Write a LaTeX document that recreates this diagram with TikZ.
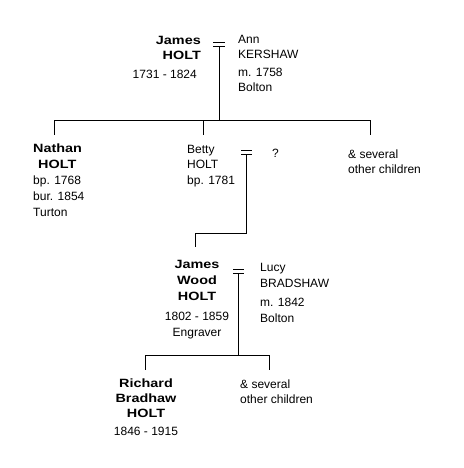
\documentclass[tikz,border=0pt]{standalone}
\usepackage{fontspec}
\setmainfont{Liberation Sans}[BoldFeatures={FakeStretch=1.2}]
\begin{document}
\begin{tikzpicture}[x=1pt,y=-1pt,
  txt/.style={inner sep=0pt, font=\fontsize{12}{15}\selectfont},
  txtb/.style={inner sep=0pt, font=\fontsize{12}{16}\selectfont},
  conn/.style={line width=1pt, line cap=rect},
  marr/.style={line width=1pt}]
\useasboundingbox (0,0) rectangle (463,468);
% generation 1 (base anchor = baseline of last line)
\node[txt, align=right, anchor=base east] (jh) at (201,79) {\textbf{James}\\\textbf{HOLT}\hspace*{1pt}\\[4pt]1731 - 1824\hspace*{4pt}};
\node[txt, align=left, anchor=base west] (ak) at (238,92) {Ann\\KERSHAW\\[3pt]m. 1758\\Bolton};
% generation 2
\node[txtb, align=left, anchor=base west] (nh) at (33,216) {\textbf{Nathan}\\\hspace*{5pt}\textbf{HOLT}\\bp. 1768\\bur. 1854\\Turton};
\node[txt, align=left, anchor=base west] (bh) at (187,184) {Betty\\HOLT\\[1pt]bp. 1781};
\node[txt, anchor=base west] (q) at (272,157) {?};
\node[txt, align=left, anchor=base west] (oc1) at (348,173) {\& several\\other children};
% generation 3
\node[txtb, align=center, anchor=base] (jw) at (197,336) {\textbf{James}\\\textbf{Wood}\\\textbf{HOLT}\\[4pt]1802 - 1859\\Engraver};
\node[txtb, align=left, anchor=base west] (lb) at (260,322) {Lucy\\BRADSHAW\\[3pt]m. 1842\\Bolton};
% generation 4
\node[txt, align=center, anchor=base] (rb) at (146,435) {\textbf{Richard}\\\textbf{Bradhaw}\\\textbf{HOLT}\\[3pt]1846 - 1915};
\node[txt, align=left, anchor=base west] (oc2) at (240,403) {\& several\\other children};

% marriage 1
\coordinate (m1) at (219,46.7);
\draw[marr] (213.3,42.3) -- (224.5,42.3) (213.3,46.7) -- (224.5,46.7);
\coordinate (f1) at (219,120.7);
\draw[conn] (m1) -- (f1);
\coordinate (d1a) at (54.3,120.7);
\coordinate (d1c) at (370,120.7);
\draw[conn] (d1a) -- (d1c);
\draw[conn] (d1a) -- (d1a |- 0,134) coordinate (t1a);
\draw[conn] (203,120.7) -- (203,134) coordinate (t1b);
\draw[conn] (d1c) -- (d1c |- 0,134) coordinate (t1c);

% marriage 2
\coordinate (m2) at (246.7,154.7);
\draw[marr] (241,150.3) -- (252.3,150.3) (241,154.7) -- (252.3,154.7);
\coordinate (k2) at (246.7,233.3);
\coordinate (k3) at (195.7,233.3);
\draw[conn] (m2) -- (k2) -- (k3) -- (195.7,246.7) coordinate (t2);

% marriage 3
\coordinate (m3) at (238.5,273.7);
\draw[marr] (233,269.3) -- (244,269.3) (233,273.7) -- (244,273.7);
\coordinate (f3) at (238.5,355.7);
\draw[conn] (m3) -- (f3);
\coordinate (d3a) at (145.7,355.7);
\coordinate (d3b) at (269.3,355.7);
\draw[conn] (d3a) -- (d3b);
\draw[conn] (d3a) -- (145.7,369) coordinate (t3a);
\draw[conn] (d3b) -- (269.3,369) coordinate (t3b);
\end{tikzpicture}
\end{document}
